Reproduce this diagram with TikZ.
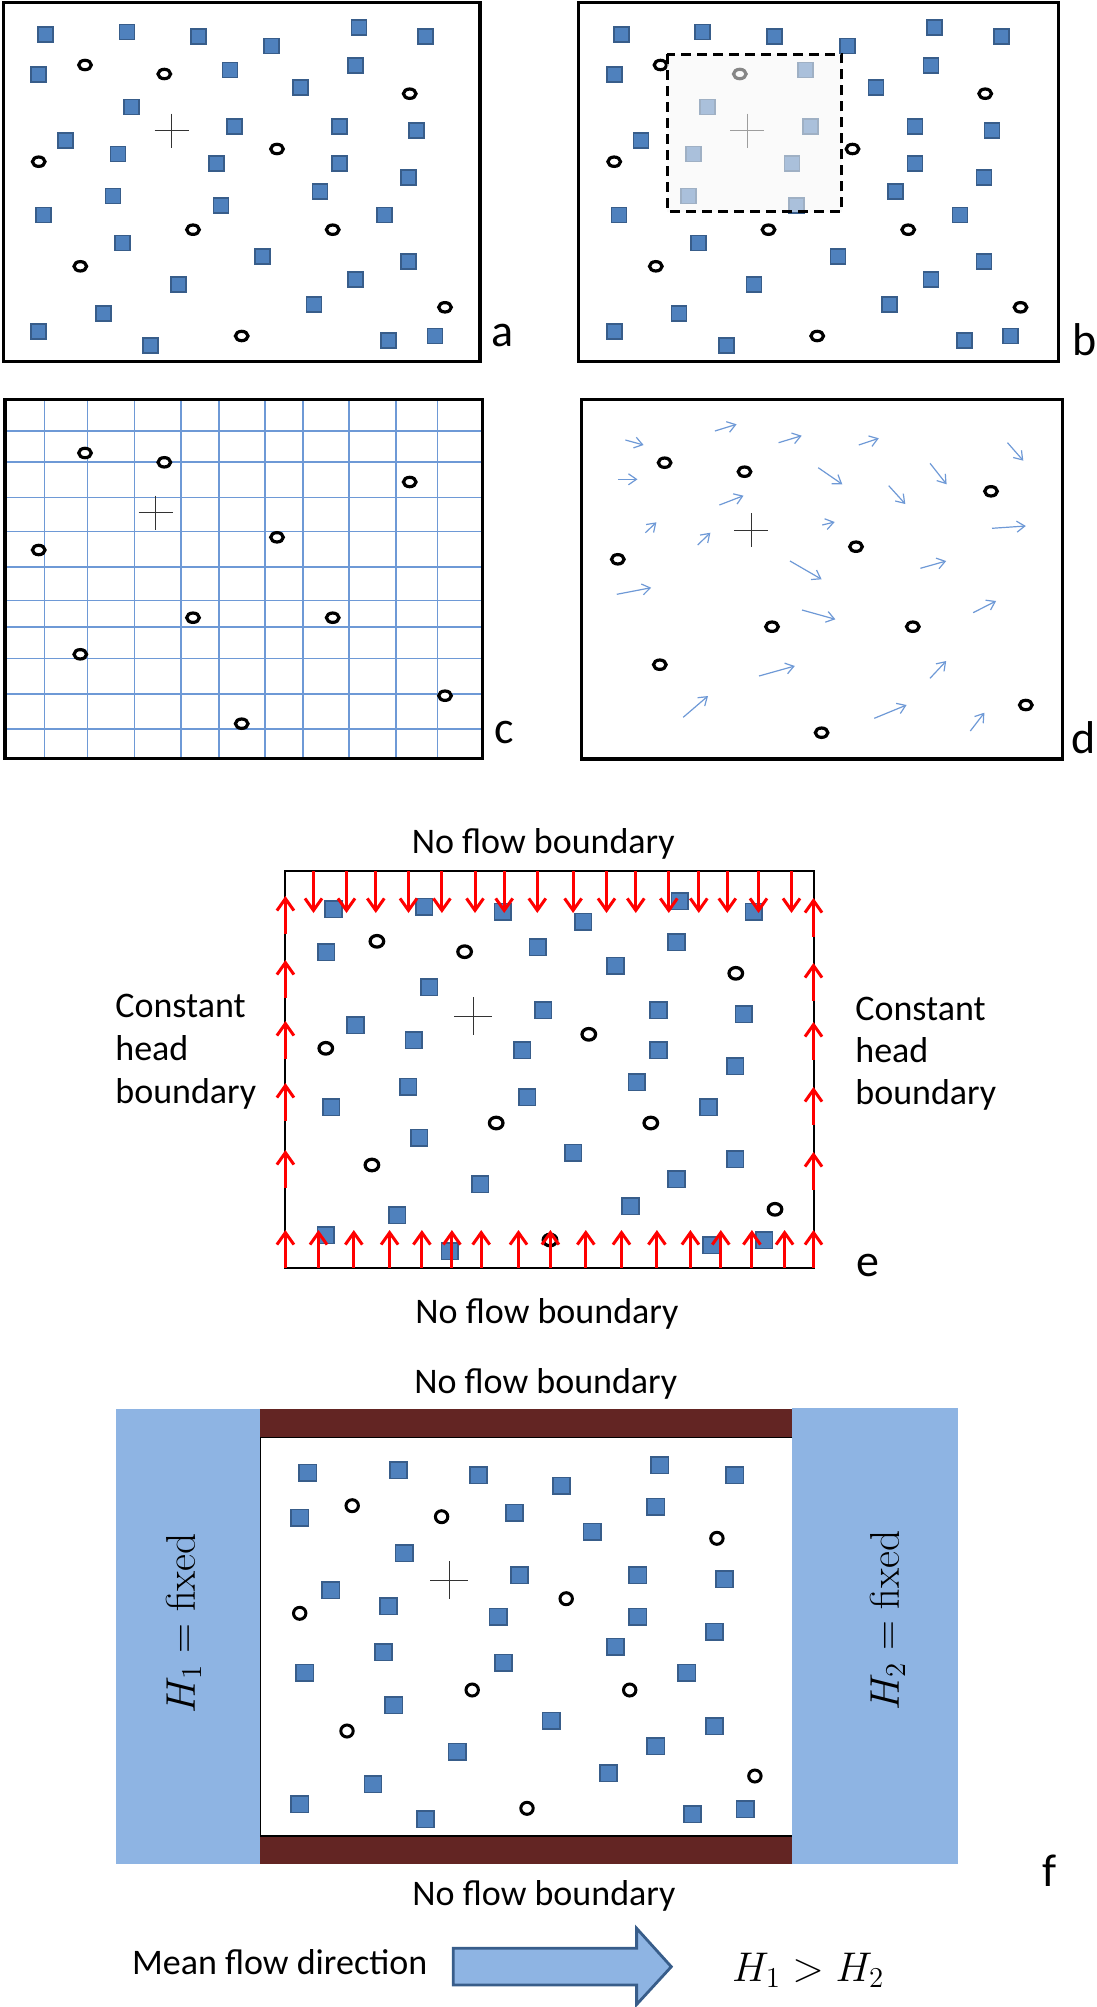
\documentclass[tikz,border=0pt]{standalone}
\usepackage[no-math]{fontspec}
\setmainfont{Carlito}
\usetikzlibrary{arrows.meta,shapes.geometric}
\definecolor{sqfill}{HTML}{4F81BD}
\definecolor{sqdraw}{HTML}{385D8A}
\definecolor{barblue}{HTML}{8EB4E3}
\definecolor{barbrown}{HTML}{632523}
\definecolor{gridblue}{RGB}{110,153,214}
\definecolor{crossgray}{HTML}{333333}
\def\aSq{45.7/34.3,127/32,198.7/36.7,271.7/46,359/27.3,425.7/36.7,38.7/74.3,230/70,355.3/65.3,300.3/87.3,131.7/107,234.7/126.3,339.3/126.3,416.3/130.3,65.3/140.3,118/154,216.3/163.3,339.3/163.3,408.3/177.3,320/191.3,113/196,221/205.3,43.3/215,384.3/215,122.7/243,262.3/256.7,408.3/261.3,178.3/284.3,355.3/279.7,314/304.3,103.3/313.3,38.7/331.7,150.7/345.7,388.7/340.7,435/336}
\def\aCi{85/65,164.3/74,409.7/93.7,38.7/161.7,277/149,193/229.7,332.7/229.7,80.3/266.3,445/307.3,241.7/336}
\def\cCi{85/453,164.3/462.3,409.7/482,38.7/550,277/537.3,193/617.7,332.7/617.7,80.3/654.3,445/695.7,241.7/723.7}
\def\dCi{664.6/462.7,744.5/471.7,991/491.3,617.8/559.3,856/546.7,772/626.7,912.8/626.7,659.8/664.7,1025.8/705,821.6/732.7}
\def\dArr{625.4/440/643.6/445,714.9/431/736.6/424.3,778.6/442.7/801.7/435.7,858.8/445/878.8/438.3,1007.5/442.7/1023.3/460.7,617.8/479.3/637.5/479.3,818.2/467.7/842.3/484.3,930/463.3/946.6/484.3,888.7/485.7/905.3/504,719.4/505/743.5/495.7,645.4/532.7/656.4/522.3,697.7/545/710.4/532.7,822.3/525/834.7/522,992/528.3/1025.8/526,790/561/821.6/579.3,920.4/568.3/946.2/561,616.8/594.3/651.2/587.7,802/610/835.4/619.3,973.1/612.7/996.1/601,759/676/794.8/666,930/678.3/946.2/661,683.2/717.3/708/696,874.3/718.3/906.6/705,970.3/731/984.4/712.7}
\def\eSq{333.5/909.3,424.2/906.7,502.7/911.7,583.1/921.7,679.6/901,753.8/911.7,326.2/952.3,537.7/947,676.5/942.3,615.4/965.7,429.2/987.3,543.1/1010,658.5/1010,743.8/1014.3,355.4/1025,413.8/1040,522.3/1050.3,658.5/1050.3,735/1066,636.9/1082,408.1/1086.7,527.3/1097,331.2/1107.3,708.5/1107.3,419.2/1137.7,573.1/1152.7,735/1159,676.5/1179.3,480/1184.3,630.4/1206,397.3/1215,325.8/1235,449.6/1251,711.5/1245,764.2/1240}
\def\eCi{376.9/941.3,464.6/951.7,735.8/973.3,325.8/1048.3,588.8/1034.3,496.2/1123,650.8/1123,371.9/1165,775/1209.3,550/1240}
\def\fSq{307.7/1472.7,398.3/1470,478.5/1475,561.6/1485.7,659.7/1465,734.7/1475.3,299.7/1517.7,514.3/1512.7,655.7/1506.7,592.2/1531.7,404.1/1553.3,519.5/1575.3,637.8/1575.3,724.4/1579.3,330.8/1590,388.5/1606,498.2/1616.7,637.8/1616.7,714.5/1631.7,615.3/1646.7,383.3/1652.3,503.4/1662.7,304.8/1672.7,686.8/1672.7,393.7/1705,551.2/1720.7,714.5/1726,655.7/1746,457.2/1751.7,608.4/1773.3,372.9/1784,299.7/1804.3,425.4/1819.3,692.6/1814,745.1/1809.3}
\def\fCi{352.2/1505.7,441.6/1516.7,716.9/1538.3,299.7/1613.3,566.2/1598.7,472.2/1690,629.7/1690,347/1731,754.9/1776,527/1808.3}
\begin{document}
\begin{tikzpicture}[x=0.5pt,y=-0.5pt,
  sq/.style={rectangle,draw=sqdraw,fill=sqfill,line width=0.8pt,minimum size=7.5pt,inner sep=0pt},
  sqe/.style={sq,minimum size=8.3pt},
  sqf/.style={sq,minimum width=8.6pt,minimum height=8.3pt},
  ci/.style={ellipse,draw=black,fill=white,line width=1.6pt,minimum width=6.3pt,minimum height=4.7pt,inner sep=0pt},
  cie/.style={ci,minimum width=6.8pt,minimum height=5.8pt},
  cif/.style={ci,line width=1.5pt,minimum width=6.2pt,minimum height=6pt},
  panelframe/.style={draw=black,line width=1.6pt},
  gridline/.style={draw=gridblue,line width=0.6pt},
  flowarr/.style={draw=gridblue,line width=0.6pt,-{Straight Barb[length=4pt,width=5.5pt]}},
  redarr/.style={draw=red,line width=1.5pt,-{Straight Barb[length=6pt,width=8.5pt]}},
  txt/.style={font=\fontsize{18}{21.5}\selectfont,inner sep=0pt},
  lbl/.style={font=\fontsize{23}{28}\selectfont,inner sep=0pt,anchor=base},
  mathtxt/.style={font=\fontsize{20}{24}\selectfont,inner sep=0pt},
  crossmark/.pic={\draw[crossgray,line width=0.5pt] (-17,0) -- (17,0) (0,-17) -- (0,17);},
  crossbig/.pic={\draw[crossgray,line width=0.5pt] (-19,0) -- (19,0) (0,-19) -- (0,19);}]
\useasboundingbox (0,0) rectangle (1097,2007);
% ---------- panel a ----------
\draw[panelframe] (3.3,2.7) rectangle (480,361.7);
\foreach \x/\y [count=\i] in \aSq {\node[sq] (asq\i) at (\x,\y) {};}
\foreach \x/\y [count=\i] in \aCi {\node[ci] (aci\i) at (\x,\y) {};}
\pic at (171.7,130.7) {crossmark};
\node[lbl] (la) at (502.3,346.7) {a};
% ---------- panel b ----------
\begin{scope}[shift={(575.5,0)}]
\draw[panelframe] (3.3,2.7) rectangle (482.6,361.7);
\foreach \x/\y [count=\i] in \aSq {\node[sq] (bsq\i) at (\x,\y) {};}
\foreach \x/\y [count=\i] in \aCi {\node[ci] (bci\i) at (\x,\y) {};}
\pic at (171.7,130.7) {crossmark};
\fill[white!96!black,fill opacity=0.55] (91.9,54.3) rectangle (266.1,211.7);
\draw[black,line width=1.5pt,dash pattern=on 5pt off 3pt] (91.9,54.3) rectangle (266.1,211.7);
\end{scope}
\node[lbl] (lb) at (1085,355) {b};
% ---------- panel c ----------
\foreach \x in {44.7,87.3,134.7,181,219,265,303,349,396,437.3} \draw[gridline] (\x,399.3) -- (\x,758.3);
\foreach \y in {431,462,497.7,531.3,567,600.3,627,658.7,694,729} \draw[gridline] (5,\y) -- (482.3,\y);
\draw[panelframe] (5,399.3) rectangle (482.3,758.3);
\foreach \x/\y [count=\i] in \cCi {\node[ci] (cci\i) at (\x,\y) {};}
\pic at (155.7,512.7) {crossmark};
\node[lbl] (lc) at (504,743.3) {c};
% ---------- panel d ----------
\draw[panelframe] (581.7,399.3) rectangle (1062.6,759);
\foreach \xa/\ya/\xb/\yb in \dArr {\draw[flowarr] (\xa,\ya) -- (\xb,\yb);}
\foreach \x/\y [count=\i] in \dCi {\node[ci] (dci\i) at (\x,\y) {};}
\pic at (751,530) {crossmark};
\node[lbl] (ld) at (1084,753.3) {d};
% ---------- panel e ----------
\node[txt,anchor=base] (etop) at (543.3,853.3) {No flow boundary};
\node[txt,anchor=base] (ebot) at (547,1323.3) {No flow boundary};
\node[txt,anchor=base west] (el1) at (115,1017.3) {Constant};
\node[txt,anchor=base west] (el2) at (115,1060) {head};
\node[txt,anchor=base west] (el3) at (115,1103) {boundary};
\node[txt,anchor=base west] (er1) at (855,1020.7) {Constant};
\node[txt,anchor=base west] (er2) at (855,1062) {head};
\node[txt,anchor=base west] (er3) at (855,1104) {boundary};
\draw[black,line width=1pt] (285.4,871) rectangle (813.5,1267.7);
\foreach \x/\y [count=\i] in \eSq {\node[sqe] (esq\i) at (\x,\y) {};}
\foreach \x/\y [count=\i] in \eCi {\node[cie] (eci\i) at (\x,\y) {};}
\pic at (473,1016) {crossbig};
\foreach \x in {313.5,346.5,375.8,408.5,441.9,475,504.2,537.3,573.1,606.5,635.8,668.8,698.8,727.3,758.5,791.5} \draw[redarr] (\x,871) -- (\x,913);
\foreach \x in {285.4,318.5,353.8,389.6,421.9,451.9,481.2,518.5,550.4,585.8,621.5,656.9,690.4,720.8,751.9,784.6,813.5} \draw[redarr] (\x,1267.7) -- (\x,1230);
\foreach \a/\b in {934/896,998/960,1059/1021,1121/1083,1188/1150} \draw[redarr] (285.4,\a) -- (285.4,\b);
\foreach \a/\b in {937/898,1001/963,1060/1022,1125/1087,1190/1152} \draw[redarr] (813.5,\a) -- (813.5,\b);
\node[lbl] (le) at (867.5,1276) {e};
% ---------- panel f ----------
\node[txt,anchor=base] (ftop) at (545.8,1393.3) {No flow boundary};
\fill[barblue] (116.2,1409.3) rectangle (260.4,1863.5);
\fill[barblue] (792.4,1408.3) rectangle (958,1863.5);
\fill[barbrown] (260.4,1409.3) rectangle (792.4,1437);
\fill[barbrown] (260.4,1836) rectangle (792.4,1863.5);
\draw[black,line width=0.8pt] (792.4,1437.5) -- (260.4,1437.5) -- (260.4,1836) -- (792.4,1836);
\foreach \x/\y [count=\i] in \fSq {\node[sqf] (fsq\i) at (\x,\y) {};}
\foreach \x/\y [count=\i] in \fCi {\node[cif] (fci\i) at (\x,\y) {};}
\pic at (449.1,1580) {crossbig};
\node[mathtxt,rotate=90] (h1) at (183.7,1623.3) {$H_1 = \mathrm{fixed}$};
\node[mathtxt,rotate=90] (h2) at (887.6,1620.6) {$H_2 = \mathrm{fixed}$};
\node[txt,anchor=base] (fbot) at (544,1905) {No flow boundary};
\node[lbl] (lf) at (1050,1886.4) {f};
\node[txt,anchor=base west] (mfd) at (131.7,1974) {Mean flow direction};
\draw[draw=sqdraw,fill=barblue,line width=1.4pt,line join=miter] (453.3,1948.3) -- (636.6,1948.3) -- (636.6,1928.3) -- (671.3,1966.7) -- (636.6,2004.5) -- (636.6,1985) -- (453.3,1985) -- cycle;
\node[mathtxt,anchor=base west] (hgt) at (731.8,1981) {$H_1 > H_2$};
\end{tikzpicture}
\end{document}
